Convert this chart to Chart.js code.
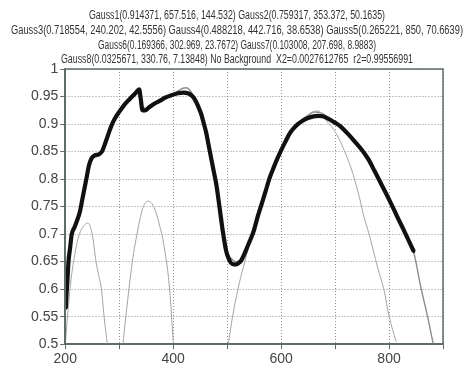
<!DOCTYPE html>
<html>
<head>
<meta charset="utf-8">
<script src="https://cdn.jsdelivr.net/npm/chart.js@4"></script>
<style>
  html, body { margin: 0; padding: 0; background: #fff; }
</style>
</head>
<body>
<canvas id="chart" width="474" height="374"></canvas>
<script>
const titleLines = [
    'Gauss1(0.914371, 657.516, 144.532) Gauss2(0.759317, 353.372, 50.1635)',
    'Gauss3(0.718554, 240.202, 42.5556) Gauss4(0.488218, 442.716, 38.6538) Gauss5(0.265221, 850, 70.6639)',
    'Gauss6(0.169366, 302.969, 23.7672) Gauss7(0.103008, 207.698, 8.9883)',
    'Gauss8(0.0325671, 330.76, 7.13848) No Background  X2=0.0027612765  r2=0.99556991'
];

// measured spectrum (thick black)
const dataX = [201, 202, 204, 206, 209, 212, 217, 222, 227, 232, 236, 240, 244, 249, 255, 262, 268, 274, 280, 286,
    292, 300, 308, 316, 324, 331, 337, 340, 343, 348, 355, 365, 375, 385, 396, 409, 420, 427, 434, 440,
    446, 452, 457, 461, 466, 470, 475, 480, 486, 492, 498, 503, 507, 512, 517, 522, 526, 531, 535, 540,
    544, 549, 557, 564, 571, 578, 585, 592, 600, 608, 616, 624, 631, 640, 650, 660, 668, 677, 687, 699,
    711, 723, 735, 748, 761, 773, 785, 795, 804, 816, 828, 838, 846];
const dataY = [0.565, 0.585, 0.615, 0.65, 0.675, 0.70, 0.712, 0.725, 0.74, 0.765, 0.785, 0.805, 0.825, 0.838, 0.843, 0.845, 0.85, 0.865, 0.882, 0.898,
    0.91, 0.922, 0.933, 0.942, 0.95, 0.957, 0.963, 0.945, 0.925, 0.925, 0.93, 0.937, 0.942, 0.948, 0.952, 0.956, 0.957, 0.956, 0.952, 0.945,
    0.933, 0.918, 0.90, 0.885, 0.86, 0.84, 0.815, 0.79, 0.748, 0.705, 0.67, 0.655, 0.648, 0.645, 0.645, 0.648, 0.652, 0.662, 0.671, 0.683,
    0.692, 0.705, 0.733, 0.755, 0.777, 0.80, 0.818, 0.835, 0.852, 0.868, 0.883, 0.893, 0.90, 0.906, 0.911, 0.914, 0.915, 0.914, 0.91, 0.903,
    0.895, 0.883, 0.87, 0.855, 0.837, 0.815, 0.792, 0.773, 0.755, 0.73, 0.706, 0.685, 0.668];

// fitted sum (thin grey)
const fitX = [200, 205, 212, 222, 232, 244, 255, 265, 275, 290, 305, 320, 330, 336, 342, 350, 365, 385, 405, 418,
    425, 432, 440, 452, 466, 480, 492, 503, 512, 518, 526, 535, 544, 557, 576, 594, 613, 631, 650, 661,
    672, 687, 711, 735, 761, 785, 804, 828, 846, 859, 872, 882];
const fitY = [0.56, 0.64, 0.70, 0.725, 0.765, 0.825, 0.842, 0.848, 0.865, 0.905, 0.93, 0.947, 0.955, 0.958, 0.935, 0.928, 0.937, 0.948, 0.958, 0.965,
    0.966, 0.96, 0.945, 0.918, 0.86, 0.79, 0.705, 0.662, 0.652, 0.65, 0.656, 0.672, 0.692, 0.735, 0.795, 0.84, 0.88, 0.902, 0.916, 0.922,
    0.921, 0.912, 0.893, 0.868, 0.835, 0.79, 0.752, 0.706, 0.666, 0.603, 0.548, 0.50];

// visible peak components (thin grey)
const g3X = [200, 205, 211, 218, 224, 232, 242, 250, 257, 262, 267, 272, 278];
const g3Y = [0.50, 0.56, 0.62, 0.665, 0.693, 0.712, 0.72, 0.70, 0.65, 0.625, 0.60, 0.55, 0.50];
const g2X = [307, 309, 318, 325, 331, 338, 344, 354, 361, 368, 375, 381, 386, 390, 395, 400];
const g2Y = [0.50, 0.52, 0.60, 0.655, 0.69, 0.725, 0.748, 0.76, 0.755, 0.74, 0.715, 0.69, 0.66, 0.633, 0.58, 0.505];
const g1X = [502, 510, 520, 530, 541, 560, 580, 600, 620, 640, 655, 668, 683, 702, 717, 733, 745, 754, 763, 779, 791, 800, 813];
const g1Y = [0.50, 0.55, 0.60, 0.64, 0.68, 0.74, 0.80, 0.848, 0.885, 0.908, 0.92, 0.924, 0.907, 0.883, 0.852, 0.81, 0.767, 0.73, 0.70, 0.639, 0.597, 0.551, 0.505];

const xLabels = [200, 400, 600, 800];

const pts = (xs, ys) => xs.map((x, i) => ({ x: x, y: ys[i] }));

const frameColor = '#5f6b6b';

// title lines are squeezed horizontally like the narrow face in the original
const titleRows = [16, 31, 46, 60];
const titleWidths = [296, 452, 278, 352];

const titlePlugin = {
    id: 'narrowTitle',
    afterDraw(chart) {
        const ctx = chart.ctx;
        ctx.save();
        ctx.font = "12px 'Liberation Sans', Arial, sans-serif";
        ctx.fillStyle = '#333';
        ctx.textAlign = 'center';
        ctx.textBaseline = 'middle';
        titleLines.forEach((t, i) => ctx.fillText(t, 237, titleRows[i], titleWidths[i]));
        ctx.restore();
    }
};

const framePlugin = {
    id: 'frame',
    afterDatasetsDraw(chart) {
        const a = chart.chartArea;
        const ctx = chart.ctx;
        ctx.save();
        ctx.strokeStyle = frameColor;
        ctx.lineWidth = 1.5;
        ctx.strokeRect(a.left, a.top, a.right - a.left, a.bottom - a.top);
        ctx.restore();
    }
};

const thin = (xs, ys, color, w) => ({
    data: pts(xs, ys),
    borderColor: color,
    borderWidth: w,
    pointRadius: 0,
    fill: false,
    order: 1,
    cubicInterpolationMode: 'monotone'
});

new Chart(document.getElementById('chart'), {
    type: 'line',
    data: {
        datasets: [
            thin(g3X, g3Y, '#a4a4a4', 1),
            thin(g2X, g2Y, '#a4a4a4', 1),
            thin(g1X, g1Y, '#a4a4a4', 1),
            thin(fitX, fitY, '#8c8c8c', 1.4),
            {
                data: pts(dataX, dataY),
                borderColor: '#111',
                borderWidth: 4.2,
                pointRadius: 1.4,
                pointBackgroundColor: '#111',
                pointBorderWidth: 0,
                fill: false,
                order: 0,
                cubicInterpolationMode: 'monotone'
            }
        ]
    },
    options: {
        responsive: false,
        animation: false,
        devicePixelRatio: 1,
        layout: { padding: { left: 29, right: 31, bottom: 4, top: 69 } },
        plugins: {
            legend: { display: false },
            tooltip: { enabled: false },
            title: { display: false }
        },
        scales: {
            x: {
                type: 'linear',
                min: 200,
                max: 900,
                ticks: {
                    stepSize: 100,
                    autoSkip: false,
                    maxRotation: 0,
                    color: '#444',
                    padding: 2,
                    font: { family: "'Liberation Sans', sans-serif", size: 14 },
                    callback: v => xLabels.includes(v) ? String(v) : ''
                },
                grid: { color: '#8f8f8f', tickColor: frameColor, tickLength: 5 },
                border: { color: frameColor, width: 1.5, dash: [1, 2] }
            },
            y: {
                min: 0.5,
                max: 1,
                ticks: {
                    stepSize: 0.05,
                    color: '#444',
                    padding: 2,
                    font: { family: "'Liberation Sans', sans-serif", size: 14 },
                    callback: v => String(Number(v.toFixed(2)))
                },
                grid: { color: '#8f8f8f', tickColor: frameColor, tickLength: 5 },
                border: { color: frameColor, width: 1.5, dash: [1, 2] }
            }
        }
    },
    plugins: [framePlugin, titlePlugin]
});
</script>
</body>
</html>
